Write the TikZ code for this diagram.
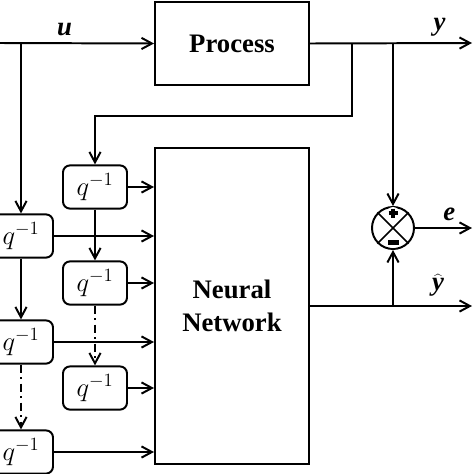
\documentclass[tikz,border=0pt]{standalone}
\usepackage{fontspec}
\setmainfont{Liberation Serif}
\usepackage{fix-cm}
\usetikzlibrary{arrows.meta,calc}

\begin{document}
\begin{tikzpicture}[x=0.025cm, y=-0.025cm, >={Straight Barb[length=2.6mm,width=2.8mm]}, line width=1.4pt,
    block/.style={draw, rectangle, font=\fontsize{19}{23}\selectfont\bfseries, align=center},
    delay/.style={draw, rectangle, rounded corners=5pt, minimum width=1.6cm, minimum height=1.08cm,
        font=\fontsize{19}{21}\selectfont},
    sig/.style={font=\fontsize{19}{21}\selectfont\bfseries\itshape},
    dotdash/.style={dash pattern=on 6pt off 3pt on 1.5pt off 3pt}]

        \useasboundingbox (0,0) rectangle (474,474);

        % Khoi Process
        \node[block, minimum width=3.85cm, minimum height=2.08cm] (proc) at (232,43.5) {Process};

        % Khoi Neural Network
        \node[block, minimum width=3.85cm, minimum height=7.9cm] (nn) at (232,306) {Neural\\Network};

        % Cot tre ben phai (tu y)
        \node[delay] (r1) at (95,187) {$q^{-1}$};
        \node[delay] (r2) at (95,283) {$q^{-1}$};
        \node[delay] (r3) at (95,388) {$q^{-1}$};

        % Cot tre ben trai (tu u)
        \node[delay] (l1) at (21,236) {$q^{-1}$};
        \node[delay] (l2) at (21,342) {$q^{-1}$};
        \node[delay] (l3) at (21,452) {$q^{-1}$};

        % Bo tong
        \node[draw, circle, minimum size=1.05cm, inner sep=0pt] (sum) at (393,228) {};
        \draw[line width=1.1pt] (sum.north west) -- (sum.south east) (sum.north east) -- (sum.south west);
        \fill[white] ($(sum.center)+(0,-15)$) circle (6);
        \fill[white] ($(sum.center)+(0,14)$) circle (6);
        \draw[line width=2.4pt] ($(sum.center)+(-4.5,-15)$) -- ++(9,0) ($(sum.center)+(0,-19.5)$) -- ++(0,9);
        \fill ($(sum.center)+(-5.5,12)$) rectangle ++(11,5);

        % Cac diem noi
        \coordinate (in) at (0,43);
        \coordinate (yout) at (472,43);
        \coordinate (eout) at (472,228);
        \coordinate (yhout) at (472,306);
        \coordinate (fb) at (352,116);

        % ========================================================
        % DAY NOI
        % ========================================================

        % u -> Process, y ra ngoai
        \draw[->] (in) -- node[sig, pos=0.42, above=1pt] {u} (proc.west);
        \draw[->] (proc.east) -- node[sig, pos=0.8, above=1pt] {y} (yout);

        % u -> cot tre trai
        \draw[->] (in -| l1) -- (l1.north);
        \draw[->] (l1.south) -- (l2.north);
        \draw[->, dotdash] (l2.south) -- (l3.north);

        % y -> cot tre phai
        \draw[->] (proc.east -| fb) -- (fb) -| (r1.north);
        \draw[->] (r1.south) -- (r2.north);
        \draw[->, dotdash] (r2.south) -- (r3.north);

        % Cac tre -> Neural Network
        \foreach \d in {r1,r2,r3,l1,l2,l3}
            \draw[->] (\d.east) -- (\d.east -| nn.west);

        % y va y-hat -> bo tong
        \draw[->] (proc.east -| sum) -- (sum.north);
        \draw[->] (nn.east) -- node[pos=0.79, above=3pt, font=\fontsize{19}{21}\selectfont]
            {$\widehat{\mbox{\bfseries\itshape y}}$} (yhout);
        \draw[->] (nn.east -| sum) -- (sum.south);
        \draw[->] (sum.east) -- node[sig, pos=0.6, above=1pt] {e} (eout);

    \end{tikzpicture}
\end{document}
